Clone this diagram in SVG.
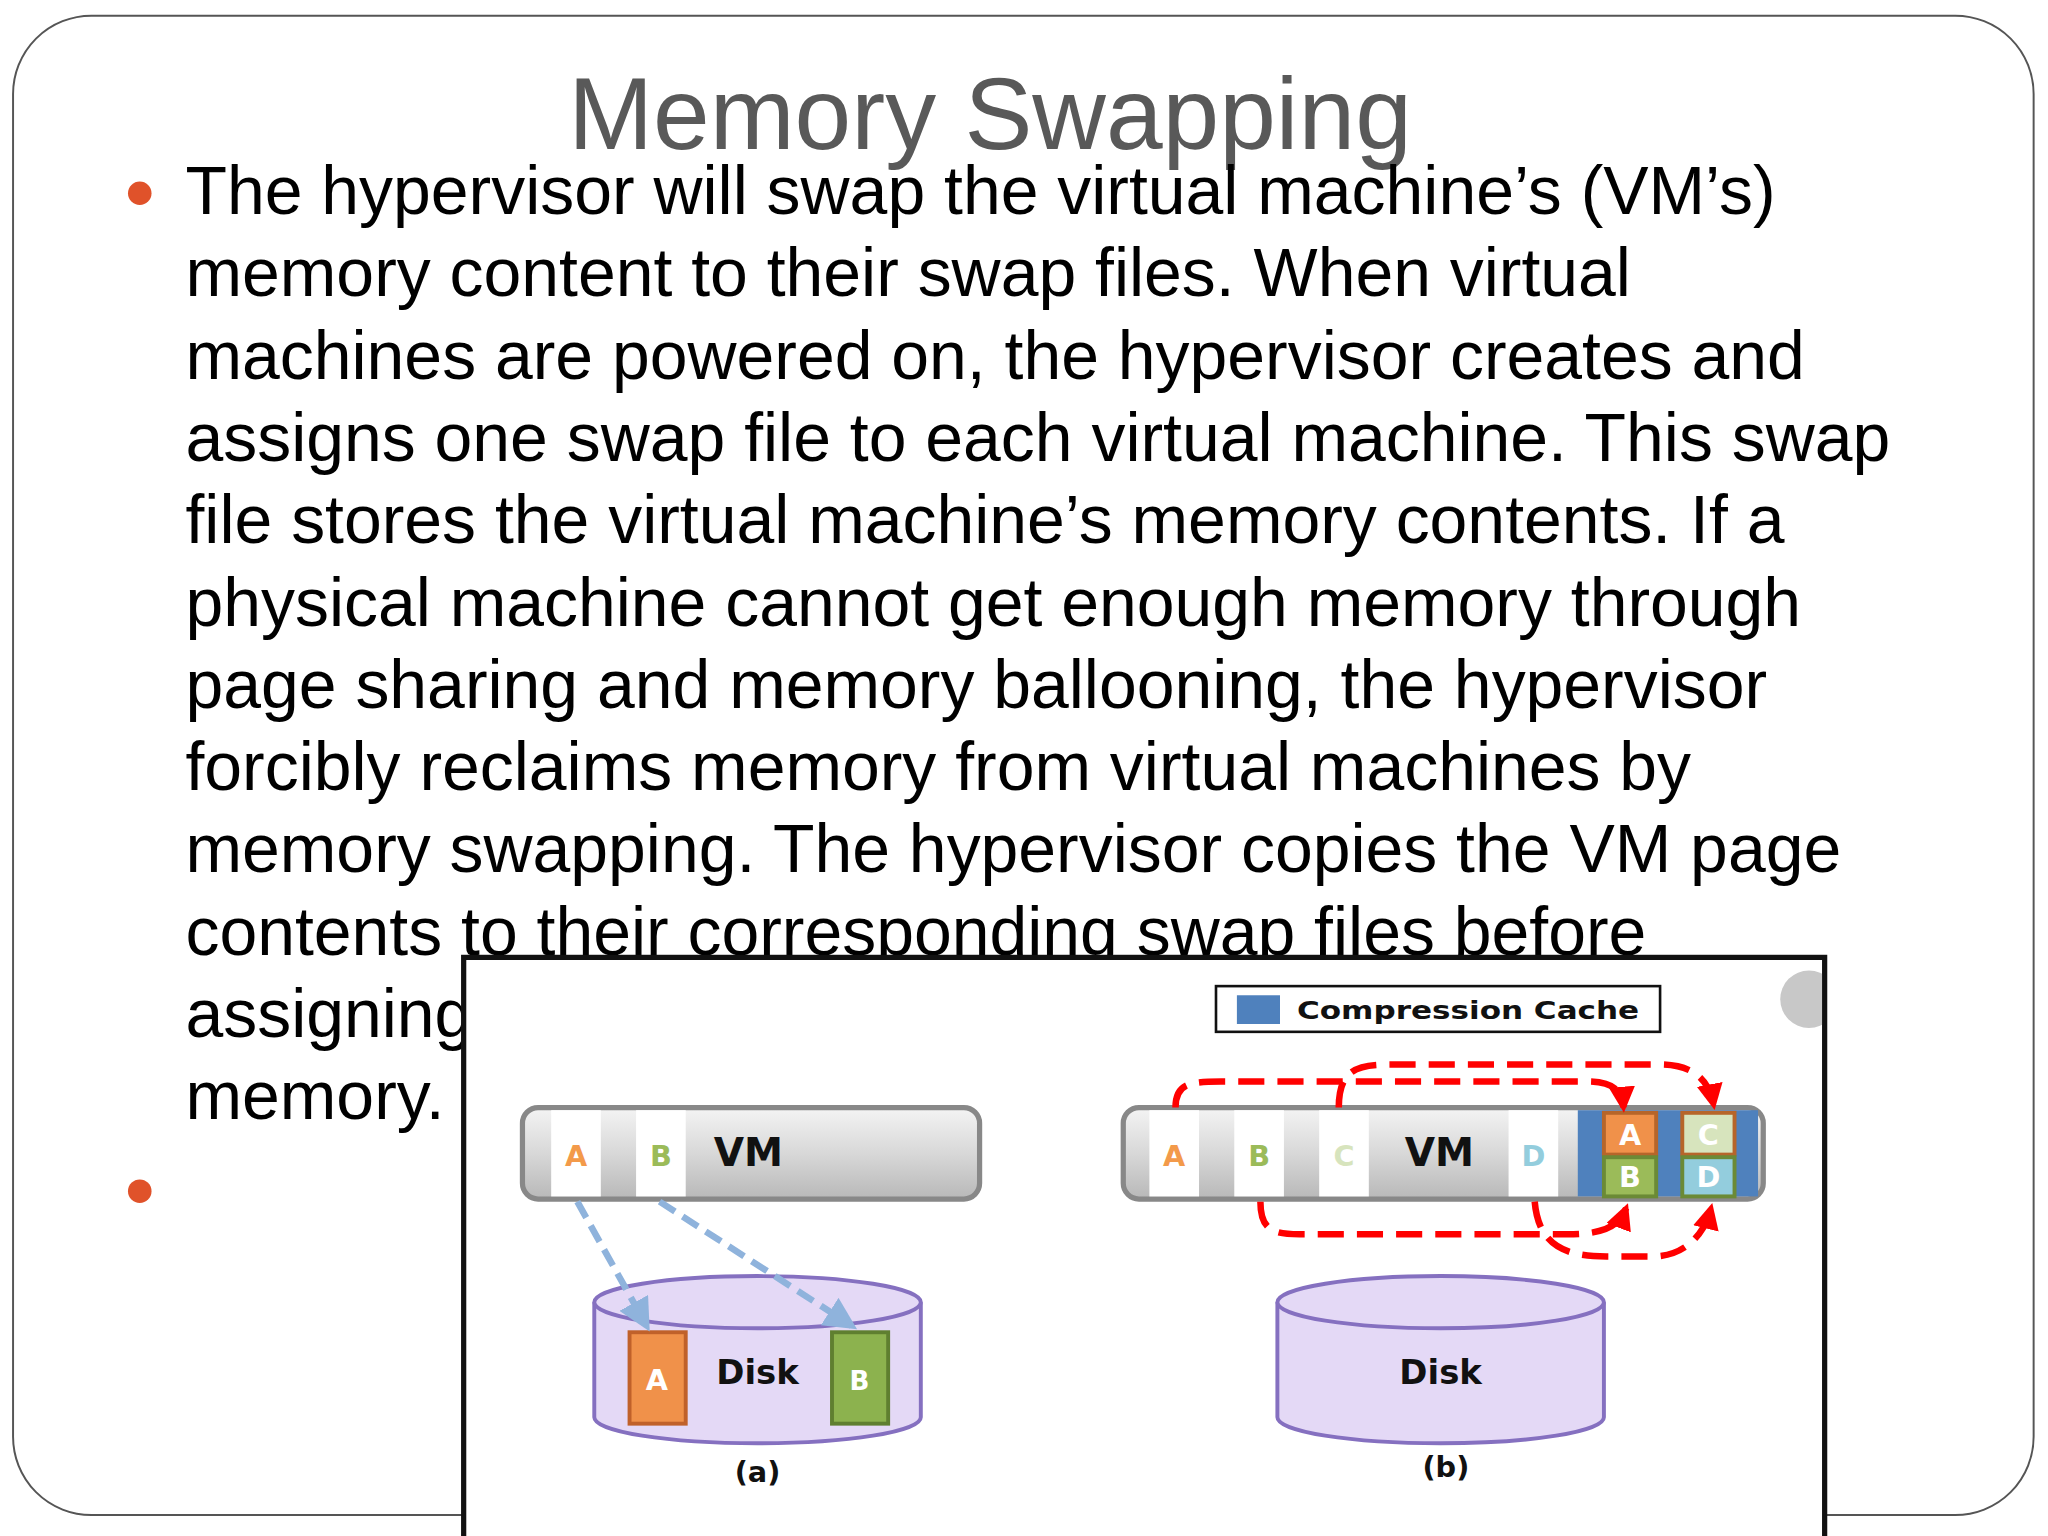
<svg xmlns="http://www.w3.org/2000/svg" width="2048" height="1536" viewBox="0 0 2048 1536">
<defs>
<linearGradient id="bar" x1="0" y1="0" x2="0" y2="1"><stop offset="0" stop-color="#f4f4f4"/><stop offset="0.5" stop-color="#d8d8d8"/><stop offset="1" stop-color="#b8b8b8"/></linearGradient>
<marker id="ra" viewBox="0 0 10 10" refX="8" refY="5" markerWidth="4" markerHeight="4" orient="auto"><path d="M0,0 L10,5 L0,10 z" fill="#f00"/></marker>
<marker id="ba" viewBox="0 0 10 10" refX="8" refY="5" markerWidth="5" markerHeight="5" orient="auto"><path d="M0,0 L10,5 L0,10 z" fill="#8fb3dc"/></marker>
<clipPath id="box"><rect x="357" y="735" width="1038" height="441"/></clipPath>
</defs>
<style>
.t{font-family:"Liberation Sans",Arial,sans-serif;font-size:52px;fill:#000}
.b{font-family:"DejaVu Sans",Verdana,sans-serif;font-weight:bold}
.slot{fill:#fff}
.red{fill:none;stroke:#f00;stroke-width:5;stroke-dasharray:20 10;marker-end:url(#ra)}
.blue{fill:none;stroke:#8fb3dc;stroke-width:5;stroke-dasharray:14 7;marker-end:url(#ba)}
.disk{fill:#e4d9f6;stroke:#8570c0;stroke-width:3}
</style>
<g transform="scale(1.30612)">
<rect width="1568" height="1176" fill="#fff"/>
<rect x="10" y="12" width="1547" height="1148" rx="60" fill="#fff" stroke="#555" stroke-width="1.5"/>
<text x="758" y="114" text-anchor="middle" font-family="Liberation Sans,Arial,sans-serif" font-size="78" fill="#595959">Memory Swapping</text>
<circle cx="107" cy="148" r="9" fill="#e0522a"/>
<circle cx="107" cy="912" r="9" fill="#e0522a"/>
<g class="t">
<text x="142" y="164">The hypervisor will swap the virtual machine’s (VM’s)</text>
<text x="142" y="227">memory content to their swap files. When virtual</text>
<text x="142" y="290">machines are powered on, the hypervisor creates  and</text>
<text x="142" y="353">assigns one swap file to each virtual machine. This swap</text>
<text x="142" y="416">file stores the virtual machine’s memory contents. If a</text>
<text x="142" y="479">physical machine cannot get enough memory through</text>
<text x="142" y="542">page sharing and memory ballooning, the hypervisor</text>
<text x="142" y="605">forcibly reclaims memory from virtual machines by</text>
<text x="142" y="668">memory swapping. The hypervisor copies the VM page</text>
<text x="142" y="731">contents to their corresponding swap files before</text>
<text x="142" y="794">assigning</text>
<text x="142" y="857">memory.</text>
</g>
<g id="figure">
<rect x="355" y="733" width="1042" height="450" fill="#fff" stroke="#111" stroke-width="4"/>
<g clip-path="url(#box)"><circle cx="1385" cy="765" r="22" fill="#c8c8c8"/></g>
<g id="vmA">
<rect x="400" y="848" width="350" height="70" rx="12" fill="url(#bar)" stroke="#888" stroke-width="4"/>
<rect class="slot" x="422" y="850" width="38" height="66"/>
<rect class="slot" x="487" y="850" width="38" height="66"/>
<text x="441" y="893" text-anchor="middle" class="b" font-size="22" fill="#f39a4a">A</text>
<text x="506" y="893" text-anchor="middle" class="b" font-size="22" fill="#9bbb59">B</text>
<text x="573" y="893" text-anchor="middle" class="b" font-size="30" fill="#111">VM</text>
</g>
<g id="diskA">
<path class="disk" d="M455,997 L455,1085 A125,20 0 0 0 705,1085 L705,997"/>
<ellipse class="disk" cx="580" cy="997" rx="125" ry="20"/>
<rect x="482" y="1020" width="43" height="70" fill="#f0914a" stroke="#c0612a" stroke-width="3"/>
<rect x="637" y="1020" width="43" height="70" fill="#8cb24e" stroke="#5f7f30" stroke-width="3"/>
<text x="503" y="1064" text-anchor="middle" class="b" font-size="22" fill="#fff">A</text>
<text x="658" y="1064" text-anchor="middle" class="b" font-size="20" fill="#fff">B</text>
<text x="580" y="1060" text-anchor="middle" class="b" font-size="26" fill="#111">Disk</text>
<text x="580" y="1135" text-anchor="middle" class="b" font-size="22" fill="#111">(a)</text>
</g>
<g id="legend">
<rect x="931" y="755" width="340" height="35" fill="#fff" stroke="#111" stroke-width="2"/>
<rect x="947" y="762" width="33" height="22" fill="#4f81bd"/>
<text x="993" y="780" class="b" font-size="19" fill="#111" textLength="262" lengthAdjust="spacingAndGlyphs">Compression Cache</text>
</g>
<g id="vmB">
<rect x="860" y="848" width="490" height="70" rx="12" fill="url(#bar)" stroke="#888" stroke-width="4"/>
<rect class="slot" x="880" y="850" width="38" height="66"/>
<rect class="slot" x="945" y="850" width="38" height="66"/>
<rect class="slot" x="1010" y="850" width="38" height="66"/>
<rect class="slot" x="1155" y="850" width="38" height="66"/>
<rect x="1208" y="850" width="138" height="66" fill="#4f81bd"/>
<rect x="1228" y="852" width="40" height="32" fill="#f0914a" stroke="#b6652a" stroke-width="3"/>
<rect x="1288" y="852" width="40" height="32" fill="#d7e4bd" stroke="#b6652a" stroke-width="3"/>
<rect x="1228" y="886" width="40" height="30" fill="#9bbb59" stroke="#6b8a36" stroke-width="3"/>
<rect x="1288" y="886" width="40" height="30" fill="#93cddd" stroke="#6b8a36" stroke-width="3"/>
<text x="899" y="893" text-anchor="middle" class="b" font-size="22" fill="#f39a4a">A</text>
<text x="964" y="893" text-anchor="middle" class="b" font-size="22" fill="#9bbb59">B</text>
<text x="1029" y="893" text-anchor="middle" class="b" font-size="22" fill="#d7e4bd">C</text>
<text x="1102" y="893" text-anchor="middle" class="b" font-size="30" fill="#111">VM</text>
<text x="1174" y="893" text-anchor="middle" class="b" font-size="22" fill="#93cddd">D</text>
<text x="1248" y="877" text-anchor="middle" class="b" font-size="22" fill="#fff">A</text>
<text x="1308" y="877" text-anchor="middle" class="b" font-size="22" fill="#fff">C</text>
<text x="1248" y="909" text-anchor="middle" class="b" font-size="22" fill="#fff">B</text>
<text x="1308" y="909" text-anchor="middle" class="b" font-size="22" fill="#fff">D</text>
</g>
<g id="diskB">
<path class="disk" d="M978,997 L978,1085 A125,20 0 0 0 1228,1085 L1228,997"/>
<ellipse class="disk" cx="1103" cy="997" rx="125" ry="20"/>
<text x="1103" y="1060" text-anchor="middle" class="b" font-size="26" fill="#111">Disk</text>
<text x="1107" y="1131" text-anchor="middle" class="b" font-size="22" fill="#111">(b)</text>
</g>
<g id="connectors">
<path class="blue" d="M442,920 L495,1015"/>
<path class="blue" d="M505,920 L652,1015"/>
<path class="red" d="M900,848 C900,830 910,828 935,828 L1215,828 C1235,828 1242,835 1243,848"/>
<path class="red" d="M1025,848 C1025,818 1040,815 1065,815 L1270,815 C1295,815 1308,825 1312,846"/>
<path class="red" d="M965,920 C965,942 975,945 995,945 L1200,945 C1230,945 1240,938 1245,925"/>
<path class="red" d="M1175,920 C1178,955 1200,962 1230,962 L1265,962 C1290,962 1305,945 1310,925"/>
</g>
</g>
</g>
</svg>
